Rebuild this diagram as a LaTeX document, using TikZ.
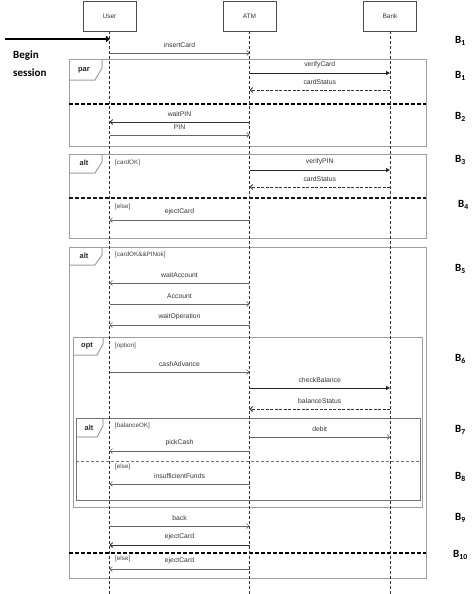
\documentclass[tikz,border=0pt]{standalone}
\usepackage{fontspec}
\setmainfont{Liberation Sans}
\newfontfamily\carl{Carlito}
\usetikzlibrary{arrows.meta}
\newcommand\msgline[5]{\draw[#1] (#2 |- 0,#4) -- node[msglabel]{#5} (#3 |- 0,#4);}
\begin{document}
\begin{tikzpicture}[x=1pt,y=-1pt,
  participant/.style={draw=black!70, line width=0.6pt, minimum width=53pt, minimum height=30pt, inner sep=0pt, font=\fontsize{6.5}{7}\selectfont, text=black!80},
  lifeline/.style={draw=black!80, dash pattern=on 3pt off 2pt, line width=0.5pt},
  frame/.style={draw=black!38, line width=1pt},
  innerframe/.style={draw=black!55, line width=1pt},
  tabtxt/.style={font=\bfseries\fontsize{7.5}{8}\selectfont, text=black!85},
  guard/.style={anchor=west, inner sep=0pt, font=\fontsize{6.3}{7}\selectfont, text=black!75},
  msglabel/.style={midway, yshift=8pt, inner sep=0pt, font=\fontsize{6.8}{7.5}\selectfont, text=black!80},
  sync/.style={draw=black!60, line width=0.6pt, -{Straight Barb[length=2.5pt,width=5pt]}},
  syncd/.style={draw=black!80, line width=0.9pt, -{Straight Barb[length=2.5pt,width=5pt]}},
  call/.style={draw=black!85, line width=1pt, -{Triangle[length=4pt,width=4pt]}},
  ret/.style={draw=black!80, line width=1pt, dash pattern=on 3pt off 1.5pt, -{Straight Barb[length=2.5pt,width=5pt]}},
  septhick/.style={draw=black, line width=1.4pt, dash pattern=on 4pt off 2pt},
  sepmid/.style={draw=black!90, line width=1.1pt, dash pattern=on 4pt off 2pt},
  septhin/.style={draw=black!55, line width=0.6pt, dash pattern=on 3pt off 2pt},
  blab/.style={anchor=west, inner sep=0pt, font=\carl\bfseries\fontsize{11}{12}\selectfont},
  begtxt/.style={anchor=west, inner sep=0pt, font=\carl\bfseries\fontsize{11}{12}\selectfont}
]
\useasboundingbox (0,0) rectangle (474,594);

% participants
\node[participant] (user) at (109.5,16) {User};
\node[participant] (atm) at (249.5,16) {ATM};
\node[participant] (bank) at (390,16) {Bank};
\coordinate (userEnd) at (user |- 0,594);
\coordinate (atmEnd) at (atm |- 0,594);
\coordinate (bankEnd) at (bank |- 0,594);

% frames
\draw[frame] (69,60) rectangle (426,146);
\draw[frame] (102,60) -- (102,68) -- (95,80) -- (69,80);
\node[tabtxt] (tpar) at (84,70) {par};
\draw[septhick] (69,104) -- (426,104);

\draw[frame] (69,154) rectangle (426,238);
\draw[frame] (102,154) -- (102,162) -- (95,173) -- (69,173);
\node[tabtxt] (talt1) at (84,163) {alt};
\draw[sepmid] (69,198) -- (426,198);

\draw[frame] (69,247) rectangle (426,578);
\draw[frame] (102,247) -- (102,255) -- (95,265) -- (69,265);
\node[tabtxt] (talt2) at (84,256) {alt};
\draw[septhick] (69,553) -- (426,553);

\draw[frame] (73,337) rectangle (422,507);
\draw[frame] (103,337) -- (103,344) -- (97,355) -- (73,355);
\node[tabtxt] (topt) at (87,346) {opt};

\draw[innerframe] (76,418) rectangle (420,500);
\draw[innerframe, line width=0.6pt] (103,418) -- (103,426) -- (97,437) -- (76,437);
\node[tabtxt] (talt3) at (89,428) {alt};
\draw[septhin] (76,461) -- (420,461);

% lifelines
\draw[lifeline] (user.south) -- (userEnd);
\draw[lifeline] (atm.south) -- (atmEnd);
\draw[lifeline] (bank.south) -- (bankEnd);

% begin session
\coordinate (begin) at (5,39);
\draw[draw=black, line width=1.4pt, -{Straight Barb[length=2.5pt,width=5pt]}] (begin) -- (user |- begin);
\node[begtxt] (tb1) at (13,56) {Begin};
\node[begtxt] (tb2) at (13,73) {session};

% guards
\node[guard] (g1) at (115,163) {[cardOK]};
\node[guard] (g2) at (115,207) {[else]};
\node[guard] (g3) at (115,255) {[cardOK\&\&PINok]};
\node[guard] (g4) at (115,346) {[option]};
\node[guard] (g5) at (115,426) {[balanceOK]};
\node[guard] (g6) at (115,467) {[else]};
\node[guard] (g7) at (115,559) {[else]};

% messages
\msgline{sync}{user}{atm}{53}{insertCard}
\msgline{call}{atm}{bank}{73}{verifyCard}
\msgline{ret}{bank}{atm}{90}{cardStatus}
\msgline{syncd}{atm}{user}{122}{waitPIN}
\msgline{sync}{user}{atm}{135}{PIN}
\msgline{call}{atm}{bank}{170}{verifyPIN}
\msgline{ret}{bank}{atm}{187}{cardStatus}
\msgline{sync}{atm}{user}{220}{ejectCard}
\msgline{sync}{atm}{user}{283}{waitAccount}
\msgline{sync}{user}{atm}{304}{Account}
\msgline{sync}{atm}{user}{325}{waitOperation}
\msgline{sync}{user}{atm}{372}{cashAdvance}
\msgline{call}{atm}{bank}{388}{checkBalance}
\msgline{ret}{bank}{atm}{409}{balanceStatus}
\msgline{sync}{atm}{bank}{437}{debit}
\msgline{sync}{atm}{user}{451}{pickCash}
\msgline{sync}{atm}{user}{484}{insufficientFunds}
\msgline{sync}{user}{atm}{526}{back}
\msgline{syncd}{atm}{user}{545}{ejectCard}
\msgline{sync}{atm}{user}{569}{ejectCard}

% block labels
\node[blab] (b1a) at (455,41) {B\textsubscript{1}};
\node[blab] (b1b) at (455,76) {B\textsubscript{1}};
\node[blab] (b2) at (455,117) {B\textsubscript{2}};
\node[blab] (b3) at (455,160) {B\textsubscript{3}};
\node[blab] (b4) at (458,205) {B\textsubscript{4}};
\node[blab] (b5) at (455,269) {B\textsubscript{5}};
\node[blab] (b6) at (455,359) {B\textsubscript{6}};
\node[blab] (b7) at (455,430) {B\textsubscript{7}};
\node[blab] (b8) at (455,477) {B\textsubscript{8}};
\node[blab] (b9) at (455,518) {B\textsubscript{9}};
\node[blab] (b10) at (453,555) {B\textsubscript{10}};
\end{tikzpicture}
\end{document}
